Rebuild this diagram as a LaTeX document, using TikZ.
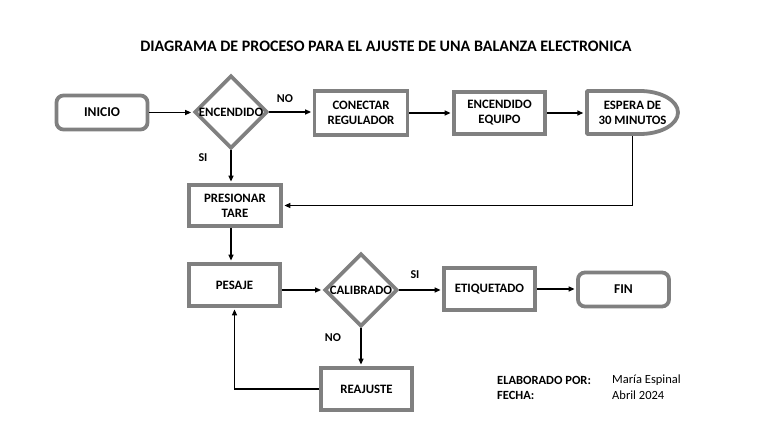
\documentclass[tikz,border=0pt]{standalone}
\usepackage{fontspec}
\setmainfont{Carlito}
\usetikzlibrary{shapes.geometric,arrows.meta,calc}
\definecolor{bordergray}{RGB}{128,128,128}
\begin{document}
\begin{tikzpicture}[x=1pt,y=-1pt,
  txt/.style={font=\bfseries\fontsize{12.8}{15}\selectfont,align=center,text=black},
  procbox/.style={txt,draw=bordergray,line width=3.8pt,fill=white,inner sep=0pt,minimum width=91pt,minimum height=42pt},
  termbox/.style={procbox,rounded corners=7pt,minimum height=34pt,font=\bfseries\fontsize{13.5}{16}\selectfont},
  decision/.style={txt,diamond,aspect=1,draw=bordergray,line width=3.8pt,fill=white,inner sep=0pt,minimum width=73pt,minimum height=73pt},
  conn/.style={line width=1.4pt,-{Triangle[length=6pt,width=5pt]},shorten >=1.5pt},
  lbl/.style={font=\bfseries\fontsize{12}{14}\selectfont},
  foot/.style={font=\fontsize{12.5}{15}\selectfont,anchor=west,inner sep=0pt}
]
\useasboundingbox (0,0) rectangle (768,433);
\fill[white] (0,0) rectangle (768,433);

\node[font=\bfseries\fontsize{16}{19}\selectfont] (title) at (386,46) {DIAGRAMA DE PROCESO PARA EL AJUSTE DE UNA BALANZA ELECTRONICA};

\node[termbox] (ini) at (102,112.5) {INICIO};
\node[decision] (enc) at (231,112) {ENCENDIDO};
\node[procbox,minimum width=93pt,minimum height=44pt] (con) at (361,113) {CONECTAR\\REGULADOR};
\node[procbox] (equ) at (499.5,113) {ENCENDIDO\\EQUIPO};
\draw[draw=bordergray,line width=3.8pt,fill=white,line join=round]
  (587,91) -- (640,91) arc[start angle=90,end angle=-90,x radius=38pt,y radius=21.5pt] -- (587,134) -- cycle;
\node[txt,minimum width=95pt,minimum height=47pt,inner sep=0pt] (esp) at (632.5,112.5) {ESPERA DE\\30 MINUTOS};
\node[procbox,minimum width=92pt,minimum height=41pt] (pre) at (235,205.5) {PRESIONAR\\TARE};
\node[procbox] (pes) at (234.5,285) {PESAJE};
\node[decision] (cal) at (361,290) {CALIBRADO};
\node[procbox] (eti) at (489.5,289) {ETIQUETADO};
\node[termbox] (fin) at (623.5,289.5) {FIN};
\node[procbox] (rea) at (366.5,389) {REAJUSTE};

\draw[conn] (ini.east) -- (ini.east -| enc.west);
\draw[conn] (enc.east) -- (enc.east -| con.west);
\draw[conn] (con.east) -- (equ.west);
\draw[conn] (equ.east) -- (equ.east -| esp.west);
\draw[conn] (enc.south) -- (enc.south |- pre.north);
\draw[conn] (esp.south) |- (pre.east);
\draw[conn] (enc.south |- pre.south) -- (enc.south |- pes.north);
\draw[conn] (pes.east |- cal.west) -- (cal.west);
\draw[conn] (cal.east) -- (cal.east -| eti.west);
\draw[conn] (eti.east) -- (eti.east -| fin.west);
\draw[conn] (cal.south) -- (cal.south |- rea.north);
\draw[conn] (rea.west) -| (pes.south);

\node[lbl] (lno1) at (285,99) {NO};
\node[lbl] (lsi1) at (203,158) {SI};
\node[lbl] (lsi2) at (415,275) {SI};
\node[lbl] (lno2) at (333,338) {NO};

\node[foot,font=\bfseries\fontsize{12.5}{15}\selectfont] (elab) at (497,380) {ELABORADO POR:};
\node[foot,font=\bfseries\fontsize{12.5}{15}\selectfont] (fecha) at (497,395) {FECHA:};
\node[foot] (autor) at (612,380) {María Espinal};
\node[foot] (fechav) at (612,395) {Abril 2024};
\end{tikzpicture}
\end{document}
